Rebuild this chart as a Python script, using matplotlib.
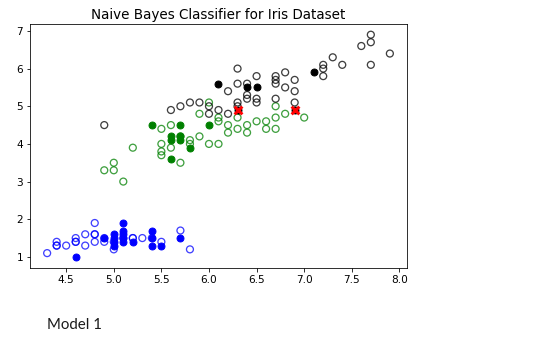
import matplotlib
matplotlib.use('Agg')
import matplotlib.pyplot as plt

# sepal length (x) vs petal length (y), open = training points, filled = test points
setosa_train_x = [4.3, 4.4, 4.4, 4.4, 4.5, 4.6, 4.6, 4.6, 4.7, 4.7, 4.8, 4.8, 4.8, 4.8,
                  4.9, 4.9, 5.0, 5.0, 5.1, 5.2, 5.2, 5.3, 5.4, 5.5, 5.7, 5.8]
setosa_train_y = [1.1, 1.4, 1.3, 1.3, 1.3, 1.5, 1.4, 1.4, 1.3, 1.6, 1.9, 1.6, 1.6, 1.4,
                  1.4, 1.5, 1.2, 1.4, 1.5, 1.5, 1.5, 1.5, 1.5, 1.4, 1.7, 1.2]
setosa_test_x = [4.6, 4.9, 5.0, 5.0, 5.0, 5.0, 5.1, 5.1, 5.1, 5.1, 5.1, 5.2, 5.4, 5.4,
                 5.4, 5.5, 5.7]
setosa_test_y = [1.0, 1.5, 1.6, 1.5, 1.4, 1.3, 1.9, 1.7, 1.6, 1.5, 1.4, 1.4, 1.7, 1.5,
                 1.3, 1.3, 1.5]

versicolor_train_x = [4.9, 5.0, 5.0, 5.1, 5.2, 5.5, 5.5, 5.5, 5.5, 5.6, 5.6, 5.7, 5.7,
                      5.8, 5.8, 5.9, 5.9, 6.0, 6.0, 6.1, 6.1, 6.1, 6.2, 6.2, 6.3, 6.3,
                      6.4, 6.4, 6.5, 6.6, 6.6, 6.7, 6.7, 6.7, 6.8, 7.0]
versicolor_train_y = [3.3, 3.3, 3.5, 3.0, 3.9, 4.4, 4.0, 3.8, 3.7, 4.5, 3.9, 3.5, 4.2,
                      4.1, 4.0, 4.2, 4.8, 4.0, 5.1, 4.7, 4.6, 4.0, 4.5, 4.3, 4.7, 4.4,
                      4.5, 4.3, 4.6, 4.6, 4.4, 5.0, 4.7, 4.4, 4.8, 4.7]
versicolor_test_x = [5.4, 5.6, 5.6, 5.6, 5.7, 5.7, 5.7, 5.8, 6.0]
versicolor_test_y = [4.5, 4.2, 4.1, 3.6, 4.5, 4.2, 4.1, 3.9, 4.5]

virginica_train_x = [4.9, 5.6, 5.7, 5.8, 5.9, 6.0, 6.0, 6.1, 6.2, 6.2, 6.3, 6.3, 6.3,
                     6.3, 6.4, 6.4, 6.4, 6.5, 6.5, 6.5, 6.7, 6.7, 6.7, 6.7, 6.8, 6.8,
                     6.9, 6.9, 6.9, 7.2, 7.2, 7.2, 7.3, 7.4, 7.6, 7.7, 7.7, 7.7, 7.9]
virginica_train_y = [4.5, 4.9, 5.0, 5.1, 5.1, 5.0, 4.8, 4.9, 5.4, 4.8, 6.0, 5.6, 5.1,
                     5.0, 5.6, 5.3, 5.2, 5.8, 5.2, 5.1, 5.8, 5.7, 5.6, 5.2, 5.9, 5.5,
                     5.7, 5.4, 5.1, 6.1, 6.0, 5.8, 6.3, 6.1, 6.6, 6.9, 6.7, 6.1, 6.4]
virginica_test_x = [6.1, 6.4, 6.5, 7.1]
virginica_test_y = [5.6, 5.5, 5.5, 5.9]

# misclassified test points
wrong_x = [6.3, 6.9]
wrong_y = [4.9, 4.9]

W, H, DPI = 554, 352, 72
fig = plt.figure(figsize=(W / DPI, H / DPI), dpi=DPI)
ax = fig.add_axes([30 / W, 1 - 268 / H, 377 / W, (268 - 23.6) / H])

ms = 48
lw = 1.3
a = 0.75
ax.scatter(setosa_train_x, setosa_train_y, s=ms, facecolors='none', edgecolors='b', linewidths=lw, alpha=a)
ax.scatter(versicolor_train_x, versicolor_train_y, s=ms, facecolors='none', edgecolors='g', linewidths=lw, alpha=a)
ax.scatter(virginica_train_x, virginica_train_y, s=ms, facecolors='none', edgecolors='k', linewidths=lw, alpha=a)

ax.scatter(setosa_test_x, setosa_test_y, s=ms, color='b')
ax.scatter(versicolor_test_x, versicolor_test_y, s=ms, color='g')
ax.scatter(virginica_test_x + wrong_x, virginica_test_y + wrong_y, s=ms, color='k')
ax.scatter(wrong_x, wrong_y, s=60, marker='x', color='red', linewidths=3)

ax.set_title('Naive Bayes Classifier for Iris Dataset', fontsize=13.5, pad=5)
ax.tick_params(labelsize=10.5)

fig.text(47 / W, 1 - 325 / H, 'Model 1', fontsize=15, family=['Lato', 'DejaVu Sans'],
         color='#1a1a1a', va='center', ha='left')

fig.savefig('out.png', dpi=DPI, facecolor='white')
